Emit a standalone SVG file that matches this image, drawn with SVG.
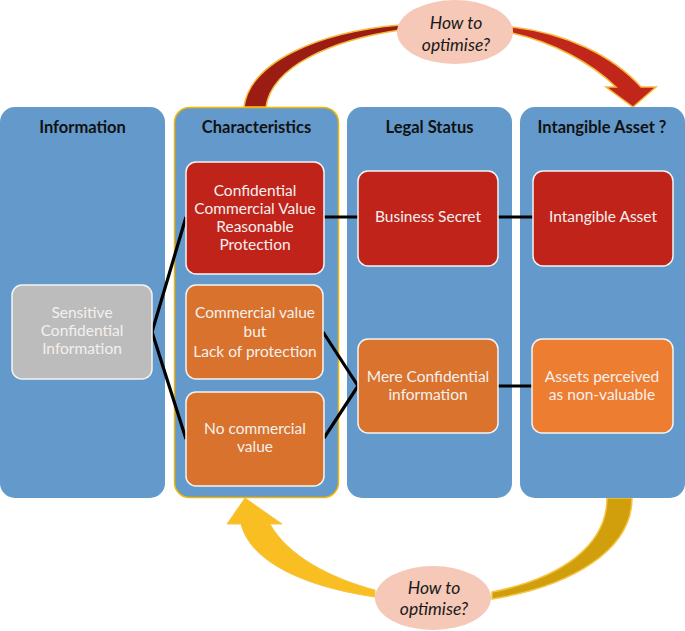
<svg xmlns="http://www.w3.org/2000/svg" width="685" height="631" viewBox="0 0 685 631">
<style>
.col{fill:#6399CB;}
.title{font-family:Lato,"Open Sans","Liberation Sans",sans-serif;font-weight:bold;font-size:16.5px;fill:#111;text-anchor:middle;}
.box{stroke:#F4F4F4;stroke-width:1.5;}
.t{font-family:Lato,"Open Sans","Liberation Sans",sans-serif;font-size:15.5px;fill:#F5F0EE;text-anchor:middle;}
.q{font-family:Lato,"Open Sans","Liberation Sans",sans-serif;font-style:italic;font-size:17.5px;fill:#1a1a1a;text-anchor:middle;}
.ln{stroke:#000;stroke-width:3.2;fill:none;}
</style>
<rect width="685" height="631" fill="#fff"/>

<!-- arrows -->
<g id="arrows">
<path d="M244,107 C250,62 318,32 400,25 L400,30 C332,40 272,66 266,107 Z" fill="#9B1C12" stroke="#F4B93A" stroke-width="1.5"/>
<path d="M512,27 C565,33 612,55 641,87 L656,87 L633,107 L606,87 L616,87 C590,62 552,42 512,33 Z" fill="#C0261A" stroke="#F4B93A" stroke-width="1.5"/>
<path d="M632,498 C632,550 572,586 492,599 L492,592 C562,578 607,545 607,498 Z" fill="#D19E0C" stroke="#F5C542" stroke-width="1.5"/>
<path d="M375,597 C300,586 250,560 241,524 L227,524 L245,498 L282,524 L270,524 C288,556 330,578 375,590 Z" fill="#F9BE22" stroke="#F5C542" stroke-width="1"/>
</g>

<!-- columns -->
<g id="col-information"><rect class="col" x="0" y="107" width="165" height="391" rx="15"/><text class="title" x="82.5" y="133">Information</text></g>
<g id="col-characteristics"><rect class="col" x="174.5" y="107.5" width="164" height="390" rx="15" stroke="#F2B705" stroke-width="1.5"/><text class="title" x="256.5" y="133">Characteristics</text></g>
<g id="col-legal"><rect class="col" x="347" y="107" width="165" height="391" rx="15"/><text class="title" x="429.5" y="133">Legal Status</text></g>
<g id="col-intangible"><rect class="col" x="520" y="107" width="165" height="391" rx="15"/><text class="title" x="602" y="133">Intangible Asset ?</text></g>

<!-- connectors -->
<g id="connectors">
<polyline class="ln" points="186,217 152,332 186,439"/>
<line class="ln" x1="324" y1="217" x2="358" y2="217"/>
<line class="ln" x1="498" y1="217" x2="533" y2="217"/>
<polyline class="ln" points="323,332 358,386 324,438"/>
<line class="ln" x1="498" y1="386" x2="532" y2="386"/>
</g>

<!-- nodes -->
<g id="n-sensitive"><rect class="box" x="12" y="285" width="140" height="94" rx="10" fill="#BBBCBB"/>
<text class="t" x="82" y="318">Sensitive</text><text class="t" x="82" y="336">Confidential</text><text class="t" x="82" y="354">Information</text></g>

<g id="n-confidential"><rect class="box" x="186" y="162" width="138" height="112" rx="10" fill="#C0231A"/>
<text class="t" x="255" y="196">Confidential</text><text class="t" x="255" y="214">Commercial Value</text><text class="t" x="255" y="232">Reasonable</text><text class="t" x="255" y="250">Protection</text></g>

<g id="n-commercial"><rect class="box" x="186" y="285" width="137" height="94" rx="10" fill="#D9722C"/>
<text class="t" x="255" y="318">Commercial value</text><text class="t" x="255" y="337">but</text><text class="t" x="255" y="357">Lack of protection</text></g>

<g id="n-nocommercial"><rect class="box" x="186" y="392" width="138" height="94" rx="10" fill="#D9722C"/>
<text class="t" x="255" y="434">No commercial</text><text class="t" x="255" y="452">value</text></g>

<g id="n-business"><rect class="box" x="358" y="171" width="140" height="95" rx="10" fill="#C0231A"/>
<text class="t" x="428" y="222">Business Secret</text></g>

<g id="n-intangible"><rect class="box" x="533" y="171" width="140" height="95" rx="10" fill="#C0231A"/>
<text class="t" x="603" y="222">Intangible Asset</text></g>

<g id="n-mere"><rect class="box" x="358" y="339" width="140" height="94" rx="10" fill="#D9732E"/>
<text class="t" x="428" y="382">Mere Confidential</text><text class="t" x="428" y="400">information</text></g>

<g id="n-assets"><rect class="box" x="532" y="339" width="141" height="94" rx="10" fill="#ED7D31"/>
<text class="t" x="602" y="382">Assets perceived</text><text class="t" x="602" y="400">as non-valuable</text></g>

<g id="n-opt-top"><ellipse cx="455" cy="32" rx="58" ry="32" fill="#F5C8B8"/>
<text class="q" x="456" y="29">How to</text><text class="q" x="456" y="51">optimise?</text></g>

<g id="n-opt-bottom"><ellipse cx="433" cy="598" rx="58" ry="32" fill="#F5C8B8"/>
<text class="q" x="434" y="594">How to</text><text class="q" x="434" y="615">optimise?</text></g>
</svg>
